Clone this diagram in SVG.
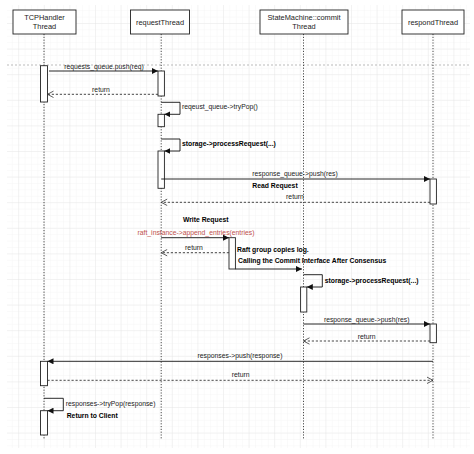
<svg xmlns="http://www.w3.org/2000/svg" width="474" height="454" viewBox="0 0 474 454">
<defs>
<pattern id="gminor" x="18.2" y="23" width="6.4" height="6.4" patternUnits="userSpaceOnUse">
<path d="M0 0 H6.4 M0 0 V6.4" stroke="#f2f2f2" stroke-width="0.6" fill="none"/>
</pattern>
<pattern id="gmajor" x="18.2" y="23" width="25.6" height="25.6" patternUnits="userSpaceOnUse">
<path d="M0 0 H25.6 M0 0 V25.6" stroke="#e4e4e4" stroke-width="0.7" fill="none"/>
</pattern>
<marker id="fill" markerWidth="7" markerHeight="6" refX="6" refY="3" orient="auto" markerUnits="userSpaceOnUse">
<path d="M0 0 L6 3 L0 6 Z" fill="#111"/>
</marker>
<marker id="open" markerWidth="8" markerHeight="8" refX="6.5" refY="4" orient="auto" markerUnits="userSpaceOnUse">
<path d="M0.5 0.8 L6.5 4 L0.5 7.2" fill="none" stroke="#333" stroke-width="0.8"/>
</marker>
</defs>
<style>
text{font-family:"Liberation Sans",Arial,sans-serif;fill:#222;}
.hd{font-size:7.4px;text-anchor:middle;}
.lb{font-size:6.8px;}
.b{font-weight:bold;fill:#000;}
.m{text-anchor:middle;}
.red{fill:#c0504d;}
.box{fill:#fff;stroke:#222;stroke-width:0.9;}
.act{fill:#fff;stroke:#222;stroke-width:0.9;}
.life{stroke:#333;stroke-width:0.9;stroke-dasharray:1.2 1.6;fill:none;}
.msg{stroke:#111;stroke-width:0.9;fill:none;marker-end:url(#fill);}
.ret{stroke:#333;stroke-width:0.9;stroke-dasharray:2.2 1.8;fill:none;marker-end:url(#open);}
</style>
<rect x="0" y="0" width="474" height="454" fill="#fff"/>
<rect x="7" y="5" width="463" height="443" fill="url(#gminor)"/>
<rect x="7" y="5" width="463" height="443" fill="url(#gmajor)"/>
<line x1="7" y1="65" x2="470" y2="65" stroke="#aaa" stroke-width="0.8" stroke-dasharray="2 2"/>

<g id="lifelines">
<line class="life" x1="44" y1="34" x2="44" y2="439"/>
<line class="life" x1="161.2" y1="34" x2="161.2" y2="439"/>
<line class="life" x1="303.5" y1="34" x2="303.5" y2="439"/>
<line class="life" x1="433" y1="34" x2="433" y2="439"/>
</g>

<g id="tcp">
<rect class="box" x="13" y="10" width="63" height="24"/>
<text class="hd" x="44.5" y="19.9">TCPHandler</text>
<text class="hd" x="44.5" y="28.6">Thread</text>
</g>
<g id="requestThread">
<rect class="box" x="130.5" y="10" width="59" height="24"/>
<text class="hd" x="160" y="24.7">requestThread</text>
</g>
<g id="stateMachine">
<rect class="box" x="260" y="10" width="88" height="24"/>
<text class="hd" x="304" y="19.9">StateMachine::commit</text>
<text class="hd" x="304" y="28.6">Thread</text>
</g>
<g id="respondThread">
<rect class="box" x="402" y="10" width="62" height="24"/>
<text class="hd" x="433" y="24.7">respondThread</text>
</g>

<g id="activations">
<rect class="act" x="40.5" y="65.7" width="7" height="36.3"/>
<rect class="act" x="40.5" y="361.3" width="7" height="24.4"/>
<rect class="act" x="40.5" y="410.7" width="7" height="24.3"/>
<rect class="act" x="158" y="71" width="6.4" height="25"/>
<rect class="act" x="158" y="114.3" width="6.4" height="12.4"/>
<rect class="act" x="158" y="151" width="6.4" height="37.3"/>
<rect class="act" x="229" y="237.7" width="6.4" height="31.3"/>
<rect class="act" x="300.6" y="287" width="6.2" height="25"/>
<rect class="act" x="430" y="179" width="6.4" height="25"/>
<rect class="act" x="430" y="324" width="6.4" height="18.7"/>
</g>

<g id="connectors">
<line class="msg" x1="49" y1="71" x2="158" y2="71"/>
<line class="ret" x1="158" y1="94.3" x2="47.5" y2="94.3"/>
<polyline class="msg" points="161.2,102.3 180,102.3 180,114.3 164.4,114.3"/>
<polyline class="msg" points="161.2,139 180,139 180,151 164.4,151"/>
<line class="msg" x1="161.2" y1="179" x2="430" y2="179"/>
<line class="ret" x1="430" y1="202.3" x2="161.2" y2="202.3"/>
<line class="msg" x1="161.2" y1="237.7" x2="229" y2="237.7"/>
<line class="ret" x1="229" y1="252.7" x2="161.2" y2="252.7"/>
<line class="msg" x1="235.4" y1="269" x2="302" y2="269"/>
<polyline class="msg" points="303.5,274.7 322.3,274.7 322.3,287 306.8,287"/>
<line class="msg" x1="303.5" y1="324" x2="430" y2="324"/>
<line class="ret" x1="430" y1="341" x2="303.5" y2="341"/>
<line class="msg" x1="433" y1="361.3" x2="47.5" y2="361.3"/>
<line class="ret" x1="47.5" y1="380.3" x2="433" y2="380.3"/>
<polyline class="msg" points="44,398.3 63.3,398.3 63.3,410.7 47.5,410.7"/>
</g>

<g id="labels">
<text class="lb m" x="104" y="69.1">requests_queue.push(req)</text>
<text class="lb m" x="101" y="91.7">return</text>
<text class="lb" x="182" y="109.1">reqeust_queue-&gt;tryPop()</text>
<text class="lb b" x="182" y="145.7">storage-&gt;processRequest(...)</text>
<text class="lb m" x="295" y="175.7">response_queue-&gt;push(res)</text>
<text class="lb b m" x="275" y="188.1">Read Request</text>
<text class="lb m" x="295" y="199.4">return</text>
<text class="lb b m" x="205.7" y="221.7">Write Request</text>
<text class="lb m red" x="196" y="235.1">raft_instance-&gt;append_entries(entries)</text>
<text class="lb m" x="194" y="249.7">return</text>
<text class="lb b" x="237" y="251.7">Raft group copies log.</text>
<text class="lb b" x="238" y="263.1">Calling the Commit Interface After Consensus</text>
<text class="lb b" x="324.7" y="282.7">storage-&gt;processRequest(...)</text>
<text class="lb m" x="366.7" y="321.7">response_queue-&gt;push(res)</text>
<text class="lb m" x="366.7" y="339.1">return</text>
<text class="lb m" x="240" y="358.1">responses-&gt;push(response)</text>
<text class="lb m" x="240.7" y="377.1">return</text>
<text class="lb" x="65.7" y="405.7">responses-&gt;tryPop(response)</text>
<text class="lb b" x="66.7" y="417.7">Return to Client</text>
</g>
</svg>
